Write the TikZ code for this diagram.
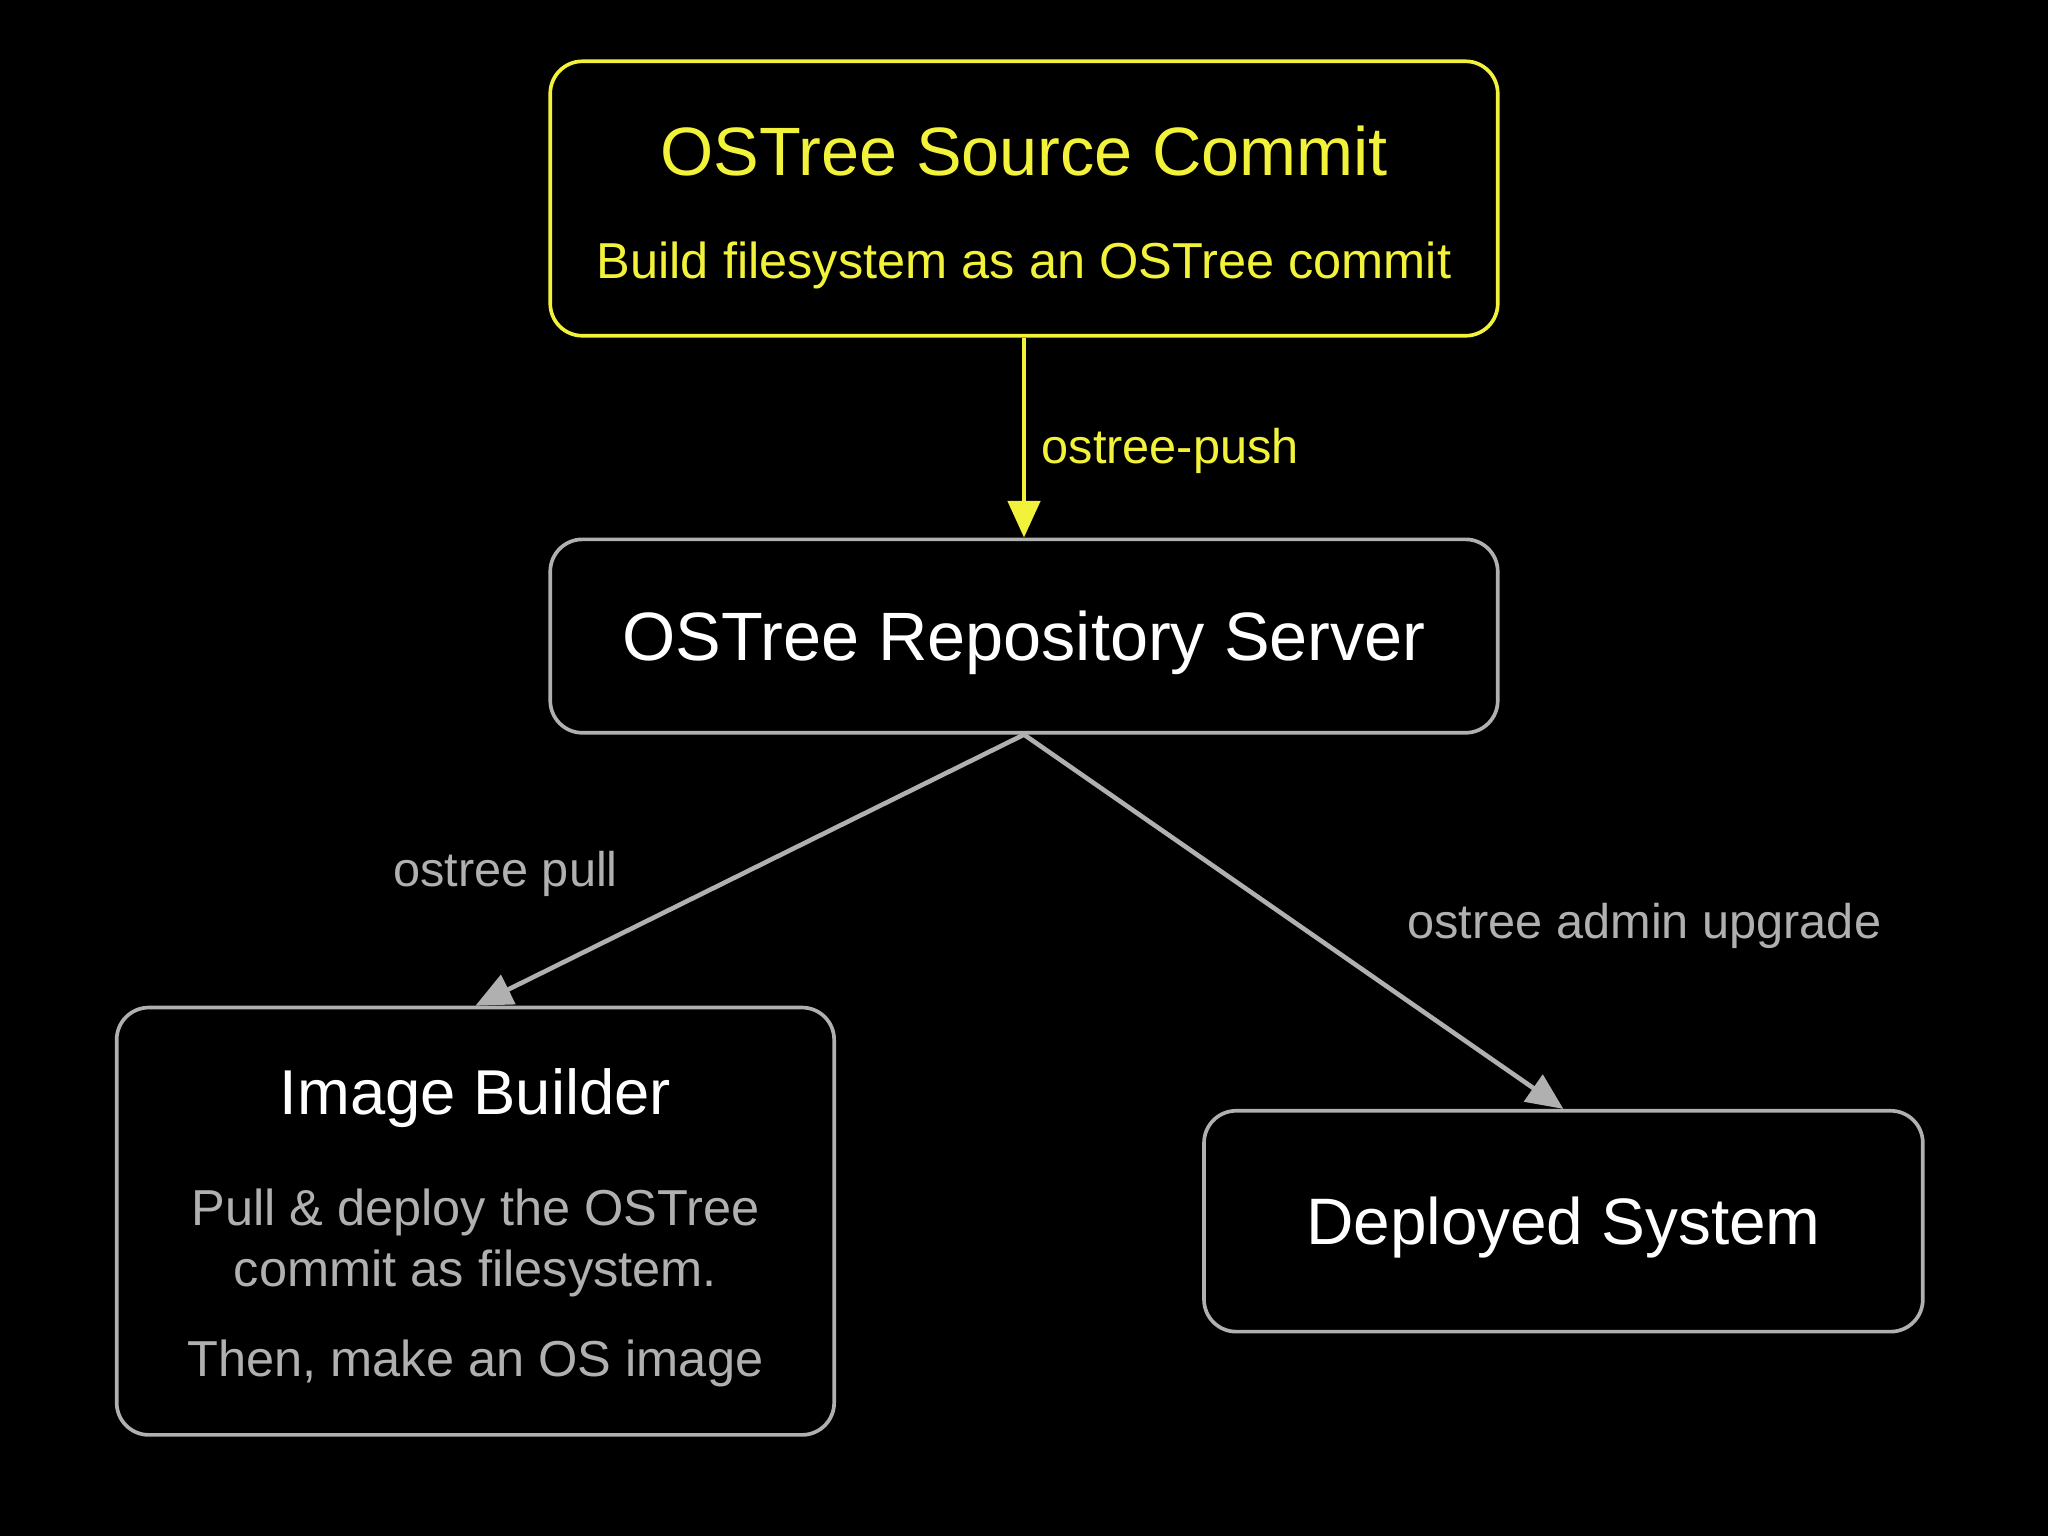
\documentclass[tikz,border=0pt]{standalone}
\usepackage{fontspec}
\setmainfont{Liberation Sans}
\usetikzlibrary{arrows.meta}
\definecolor{yel}{HTML}{F2F23A}
\definecolor{gr}{HTML}{B0B0B0}
\begin{document}
\begin{tikzpicture}[x=0.01cm,y=-0.01cm,
  box/.style={draw,line width=0.8pt,rounded corners=7pt,inner sep=0pt},
  arr/.style={line width=1pt,-{Triangle[length=8pt,width=7pt]}},
  lbl/.style={font=\fontsize{10.6}{12}\selectfont}]
\fill[black] (0,0) rectangle (1568,1176);
\useasboundingbox (0,0) rectangle (1568,1176);
\node[box,draw=yel,minimum width=7.25cm,minimum height=2.10cm] (top) at (784,152) {};
\node[box,draw=gr,minimum width=7.25cm,minimum height=1.48cm] (srv) at (784,487) {};
\node[box,draw=gr,minimum width=5.49cm,minimum height=3.27cm] (ib) at (364,935) {};
\node[box,draw=gr,minimum width=5.50cm,minimum height=1.69cm] (ds) at (1197,935) {};
\node[text=yel,font=\fontsize{14.9}{18}\selectfont] (t1) at (784,116) {OSTree Source Commit};
\node[text=yel,font=\fontsize{11}{13}\selectfont] (t2) at (784,203) {Build filesystem as an OSTree commit};
\node[text=white,font=\fontsize{14.9}{18}\selectfont] (s1) at (784,492) {OSTree Repository Server};
\node[text=white,font=\fontsize{13.8}{17}\selectfont] (i1) at (364,841) {Image Builder};
\node[text=gr,font=\fontsize{11}{13}\selectfont] (i2) at (364,928) {Pull \& deploy the OSTree};
\node[text=gr,font=\fontsize{11}{13}\selectfont] (i3) at (364,975) {commit as filesystem.};
\node[text=gr,font=\fontsize{11}{13}\selectfont] (i4) at (364,1044) {Then, make an OS image};
\node[text=white,font=\fontsize{14.3}{17}\selectfont] (d1) at (1197,940) {Deployed System};
\draw[arr,yel] (top.south) -- (srv.north) node[pos=0.5,right=0pt,lbl,text=yel,yshift=-3pt] {ostree-push};
\draw[arr,gr] (srv.south) -- (ib.north);
\draw[arr,gr] (srv.south) -- (ds.north);
\node[lbl,text=gr] (l1) at (387,669) {ostree pull};
\node[lbl,text=gr] (l2) at (1259,709) {ostree admin upgrade};
\end{tikzpicture}
\end{document}
